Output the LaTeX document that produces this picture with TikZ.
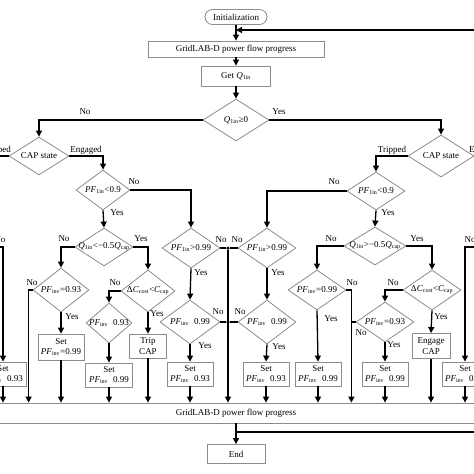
\documentclass[tikz,border=0pt]{standalone}
\usepackage{fontspec}
\setmainfont{Liberation Serif}
\usetikzlibrary{arrows.meta,shapes.geometric}
\newcommand\zw[1]{\makebox[0pt]{#1}}
\newcommand\PFx[1]{\textit{PF}\textsubscript{#1}}
\newcommand\Qx[1]{\textit{Q}\textsubscript{#1}}
\newcommand\gp{\hspace{5pt}}
\begin{document}
\begin{tikzpicture}[x=1pt,y=-1pt,font=\fontsize{9}{10.5}\selectfont,
  box/.style={draw=black!45,line width=0.8pt,rectangle,inner sep=1pt,align=center},
  setbox/.style={box,minimum width=46pt,minimum height=24pt},
  dia/.style={diamond,draw=black!45,line width=0.8pt,inner sep=0pt},
  arr/.style={line width=1.3pt,-{Triangle[length=6pt,width=6pt]}},
  ln/.style={line width=1.3pt},
  lbl/.style={inner sep=0pt},
  jdot/.style={circle,fill=black,inner sep=0pt,minimum size=3.5pt}]
\useasboundingbox (0,0) rectangle (474,474);
\clip (0,0) rectangle (474,474);
\fill[white] (0,0) rectangle (474,474);

% nodes
\node[box,rounded corners=7.5pt,minimum width=62pt,minimum height=15pt] (init) at (236,17) {Initialization};
\node[box,minimum width=176pt,minimum height=16pt] (gl1) at (236,49) {GridLAB-D power flow progress};
\node[box,minimum width=69pt,minimum height=20pt] (getq) at (236,76) {Get \Qx{1in}};
\node[dia,minimum width=66pt,minimum height=42pt] (d0) at (236,120) {\zw{\Qx{1in}≥0}};
\node[dia,minimum width=60pt,minimum height=38pt] (capL) at (39,156) {\zw{CAP state}};
\node[dia,minimum width=66pt,minimum height=42pt] (capR) at (441,156) {\zw{CAP state}};
\node[dia,minimum width=54pt,minimum height=40pt] (pfL) at (103,190) {\zw{\PFx{1in}<0.9}};
\node[dia,minimum width=58pt,minimum height=38pt] (pfR) at (376,191) {\zw{\PFx{1in}<0.9}};
\node[dia,minimum width=58pt,minimum height=38pt] (qL) at (104,247) {\zw{\Qx{1in}<−0.5\Qx{cap}}};
\node[dia,minimum width=58pt,minimum height=40pt] (p99a) at (191,248) {\zw{\PFx{1in}>0.99}};
\node[dia,minimum width=58pt,minimum height=40pt] (p99b) at (267,248) {\zw{\PFx{1in}>0.99}};
\node[dia,minimum width=62pt,minimum height=38pt] (qR) at (375,246) {\zw{\Qx{1in}>−0.5\Qx{cap}}};
\node[dia,minimum width=56pt,minimum height=44pt] (inv93L) at (61,290) {\zw{\PFx{inv}=0.93}};
\node[dia,minimum width=54pt,minimum height=42pt] (dcL) at (148,291) {\zw{Δ\textit{C}\textsubscript{cost}<\textit{C}\textsubscript{cap}}};
\node[dia,minimum width=46pt,minimum height=40pt] (inv93M) at (109,323) {\zw{\PFx{inv}\gp0.93}};
\node[dia,minimum width=60pt,minimum height=44pt] (p99a2) at (190,322) {\zw{\PFx{inv}\gp0.99}};
\node[dia,minimum width=58pt,minimum height=44pt] (p99b2) at (267,322) {\zw{\PFx{inv}\gp0.99}};
\node[dia,minimum width=58pt,minimum height=40pt] (inv99R) at (317,290) {\zw{\PFx{inv}=0.99}};
\node[dia,minimum width=58pt,minimum height=40pt] (dcR) at (432,290) {\zw{Δ\textit{C}\textsubscript{cost}<\textit{C}\textsubscript{cap}}};
\node[dia,minimum width=58pt,minimum height=40pt] (inv93R) at (385,322) {\zw{\PFx{inv}=0.93}};

\node[setbox] (setL0) at (3,374) {Set\\\PFx{inv}\gp0.93};
\node[setbox,minimum height=26pt] (setA) at (61,347) {Set\\\PFx{inv}=0.99};
\node[setbox,minimum width=37pt] (trip) at (148,346) {Trip\\CAP};
\node[setbox,minimum width=47pt] (setB) at (109,375) {Set\\\PFx{inv}\gp0.99};
\node[setbox] (setC) at (190,374) {Set\\\PFx{inv}\gp0.93};
\node[setbox] (setD) at (266,374) {Set\\\PFx{inv}\gp0.93};
\node[setbox] (setE) at (318,374) {Set\\\PFx{inv}\gp0.99};
\node[setbox] (setF) at (385,374) {Set\\\PFx{inv}\gp0.99};
\node[setbox,minimum width=38pt,minimum height=25pt] (engage) at (431,346) {Engage\\CAP};
\node[setbox] (setG) at (465,374) {Set\\\PFx{inv}\gp0.99};

\node[box,minimum width=520pt,minimum height=20pt] (gl2) at (236,413) {GridLAB-D power flow progress};
\node[box,minimum width=58pt,minimum height=19pt] (end) at (236,454) {End};

\node[jdot] (j1) at (228,248) {};
\node[jdot] (j2) at (228,322) {};
\coordinate (jb) at (236,432);
\coordinate (loopR) at (480,432);
\coordinate (retR) at (480,30);
\coordinate (tripL) at (-5,156);
\coordinate (engR) at (480,156);
\coordinate (edgeL) at (-5,247);
\coordinate (edgeR) at (480,247);

% connectors
\draw[arr] (init) -- (gl1);
\draw[arr] (retR) -- (retR -| init.south);
\draw[arr] (gl1) -- (getq);
\draw[arr] (getq) -- (d0);
\draw[arr] (d0.west) -| (capL.north);
\draw[arr] (d0.east) -| (capR.north);
\draw[ln] (capL.west) -- (tripL);
\draw[arr] (capL.east) -| (pfL.north);
\draw[arr] (capR.west) -| (pfR.north);
\draw[ln] (capR.east) -- (engR);
\draw[arr] (pfL.east) -| (p99a.north);
\draw[arr] (pfL.south) -- (qL.north);
\draw[arr] (pfR.west) -| (p99b.north);
\draw[arr] (pfR.south) -- (qR.north);
\draw[arr] (qL.west) -| (inv93L.north);
\draw[arr] (qL.east) -| (dcL.north);
\draw[ln] (p99a.east) -- (j1);
\draw[ln] (p99b.west) -- (j1);
\draw[arr] (j1) -- (j1 |- gl2.north);
\draw[arr] (p99a.south) -- (p99a2.north);
\draw[arr] (p99b.south) -- (p99b2.north);
\draw[ln] (p99a2.east) -- (j2);
\draw[ln] (p99b2.west) -- (j2);
\draw[arr] (p99a2.south) -- (setC.north);
\draw[arr] (p99b2.south) -- (setD.north);
\draw[arr] (inv93L.west) -- ++(-4,0) coordinate (c1) -- (c1 |- gl2.north);
\draw[arr] (inv93L.south) -- (setA.north);
\draw[arr] (dcL.west) -| (inv93M.north);
\draw[arr] (dcL.south) -- (trip.north);
\draw[arr] (inv93M.south) -- (setB.north);
\draw[arr] (qR.west) -| (inv99R.north);
\draw[arr] (qR.east) -| (dcR.north);
\draw[arr] (inv99R.east) -- ++(5,0) coordinate (c2) -- (c2 |- gl2.north);
\draw[ln] (inv93R.west) -- (inv93R.west -| c2);
\draw[arr] (inv99R.south) -- (setE.north);
\draw[arr] (dcR.west) -| (inv93R.north);
\draw[arr] (dcR.south) -- (engage.north);
\draw[arr] (inv93R.south) -- (setF.north);
\draw[arr] (edgeR) -| (setG.north);
\draw[arr] (edgeL) -| (setL0.north);
\foreach \n in {setL0,setA,trip,setB,setC,setD,setE,setF,engage,setG}
  \draw[arr] (\n.south) -- (\n.south |- gl2.north);
\draw[arr] (gl2.south) -- (end.north);
\draw[ln] (jb) -- (loopR);

% labels
\node[lbl] (t1) at (85,112) {No};
\node[lbl] (t2) at (279,112) {Yes};
\node[lbl,anchor=east] (t3) at (11,150) {Tripped};
\node[lbl] (t4) at (86,150) {Engaged};
\node[lbl] (t5) at (392,150) {Tripped};
\node[lbl,anchor=west] (t6) at (469,150) {Engaged};
\node[lbl] (t7) at (134,182) {No};
\node[lbl] (t8) at (117,213) {Yes};
\node[lbl] (t9) at (334,182) {No};
\node[lbl] (t10) at (388,213) {Yes};
\node[lbl] (t11) at (0,240) {No};
\node[lbl] (t12) at (64,239) {No};
\node[lbl] (t13) at (141,239) {Yes};
\node[lbl] (t14) at (221,240) {No};
\node[lbl] (t15) at (237,240) {No};
\node[lbl] (t16) at (201,273) {Yes};
\node[lbl] (t17) at (278,273) {Yes};
\node[lbl] (t18) at (331,239) {No};
\node[lbl] (t19) at (417,239) {Yes};
\node[lbl] (t20) at (470,240) {No};
\node[lbl] (t21) at (32,283) {No};
\node[lbl] (t22) at (72,317) {Yes};
\node[lbl] (t23) at (115,283) {No};
\node[lbl] (t24) at (157,314) {Yes};
\node[lbl] (t25) at (218,312) {No};
\node[lbl] (t26) at (240,312) {No};
\node[lbl] (t27) at (205,346) {Yes};
\node[lbl] (t28) at (279,347) {Yes};
\node[lbl] (t29) at (352,283) {No};
\node[lbl] (t30) at (331,319) {Yes};
\node[lbl] (t31) at (393,283) {No};
\node[lbl] (t32) at (441,317) {Yes};
\node[lbl] (t33) at (361,333) {No};
\node[lbl] (t34) at (394,345) {Yes};
\end{tikzpicture}
\end{document}
